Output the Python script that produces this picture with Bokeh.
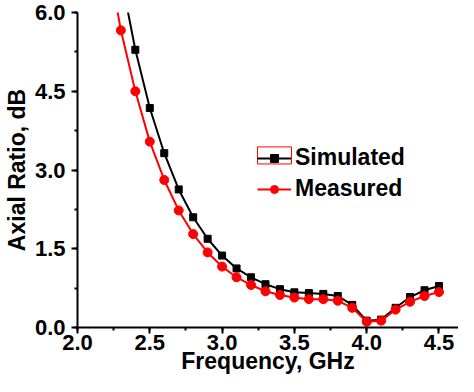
from bokeh.plotting import figure
from bokeh.models import Range1d, SingleIntervalTicker, Legend, LegendItem, BoxAnnotation, CustomJSTickFormatter
from bokeh.embed import file_html
from bokeh.resources import INLINE

freq_sim = [2.3, 2.4, 2.5, 2.6, 2.7, 2.8, 2.9, 3.0, 3.1, 3.2, 3.3, 3.4, 3.5, 3.6, 3.7, 3.8, 3.9, 4.0, 4.1, 4.2, 4.3, 4.4, 4.5]
ar_sim = [6.7, 5.29, 4.18, 3.32, 2.63, 2.10, 1.69, 1.37, 1.125, 0.956, 0.825, 0.73, 0.67, 0.655, 0.64, 0.60, 0.43, 0.13, 0.15, 0.375, 0.58, 0.71, 0.79]

freq_meas = [2.2, 2.3, 2.4, 2.5, 2.6, 2.7, 2.8, 2.9, 3.0, 3.1, 3.2, 3.3, 3.4, 3.5, 3.6, 3.7, 3.8, 3.9, 4.0, 4.1, 4.2, 4.3, 4.4, 4.5]
ar_meas = [7.2, 5.66, 4.5, 3.54, 2.81, 2.23, 1.78, 1.43, 1.16, 0.956, 0.81, 0.69, 0.62, 0.57, 0.54, 0.54, 0.51, 0.375, 0.11, 0.13, 0.34, 0.49, 0.60, 0.675]

series_names = ["Simulated", "Measured"]

FONT = "Liberation Sans"

p = figure(width=458, height=376, output_backend="svg", toolbar_location=None,
           x_range=Range1d(2.0, 4.635), y_range=Range1d(0, 6.0),
           min_border_left=77, min_border_right=0, min_border_top=12, min_border_bottom=40)
p.outline_line_color = None
p.grid.visible = False
p.background_fill_color = "white"

p.xaxis.ticker = SingleIntervalTicker(interval=0.5, num_minor_ticks=2)
p.yaxis.ticker = SingleIntervalTicker(interval=1.5, num_minor_ticks=2)

for ax in (p.xaxis[0], p.yaxis[0]):
    ax.axis_line_width = 2
    ax.axis_line_color = "black"
    ax.major_tick_line_width = 2
    ax.minor_tick_line_width = 2
    ax.major_tick_in = 0
    ax.major_tick_out = 6
    ax.minor_tick_in = 0
    ax.minor_tick_out = 3
    ax.major_label_text_font = FONT
    ax.major_label_text_font_style = "bold"
    ax.major_label_text_font_size = "22px"
    ax.major_label_text_color = "black"
    ax.axis_label_text_font = FONT
    ax.axis_label_text_font_style = "bold"
    ax.axis_label_text_font_size = "23px"
    ax.axis_label_text_color = "black"

p.xaxis.axis_label = "Frequency, GHz"
p.yaxis.axis_label = "Axial Ratio, dB"
p.xaxis.major_label_standoff = 1
p.xaxis.axis_label_standoff = -5
p.yaxis.major_label_standoff = 6
p.yaxis.axis_label_standoff = 2
fmt = CustomJSTickFormatter(code="return tick.toFixed(1);")
p.xaxis.formatter = fmt
p.yaxis.formatter = fmt

l1 = p.line(freq_sim, ar_sim, line_color="black", line_width=2)
s1 = p.scatter(freq_sim, ar_sim, marker="square", size=7, fill_color="black", line_color="black")
l2 = p.line(freq_meas, ar_meas, line_color="red", line_width=2)
s2 = p.scatter(freq_meas, ar_meas, marker="circle", size=9, fill_color="red", line_color="red")

legend = Legend(items=[LegendItem(label=series_names[0], renderers=[l1, s1]),
                       LegendItem(label=series_names[1], renderers=[l2, s2])],
                location=(180, 125), padding=0, margin=0, spacing=4,
                glyph_width=34, glyph_height=20, label_height=20, label_standoff=4,
                label_text_font=FONT, label_text_font_style="bold", label_text_font_size="23px",
                label_text_color="black",
                border_line_color=None, background_fill_alpha=0)
p.add_layout(legend)

box = BoxAnnotation(left=3.245, right=3.48, bottom=3.115, top=3.44,
                    fill_alpha=0, line_color="red", line_alpha=1.0, line_width=1)
p.add_layout(box)

open("out.html", "w").write(file_html(p, INLINE))
